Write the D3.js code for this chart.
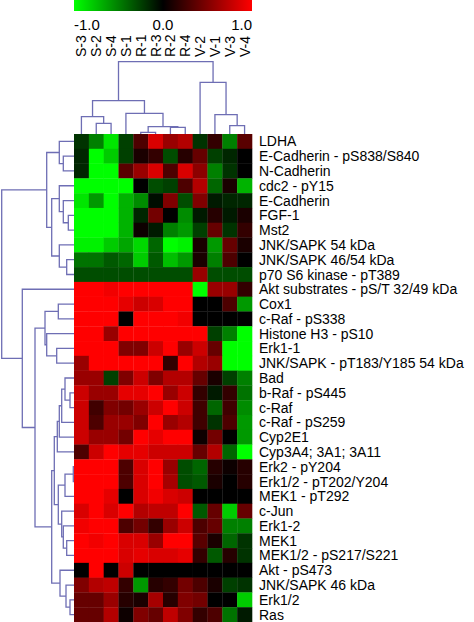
<!DOCTYPE html>
<html>
<head>
<meta charset="utf-8">
<script src="https://cdn.jsdelivr.net/npm/d3@7"></script>
<style>
  body { margin: 0; background: #fff; }
  text { font-family: "Liberation Sans", Arial, sans-serif; font-size: 14px; fill: #000; }
</style>
</head>
<body>
<svg id="drawing_region"></svg>
<script>
const samples = ["S-3","S-2","S-4","S-1","R-1","R-3","R-2","R-4","V-2","V-1","V-3","V-4"];

const proteins = [
  "LDHA","E-Cadherin - pS838/S840","N-Cadherin","cdc2 - pY15","E-Cadherin","FGF-1","Mst2",
  "JNK/SAPK 54 kDa","JNK/SAPK 46/54 kDa","p70 S6 kinase - pT389","Akt substrates - pS/T 32/49 kDa",
  "Cox1","c-Raf - pS338","Histone H3 - pS10","Erk1-1","JNK/SAPK - pT183/Y185 54 kDa","Bad",
  "b-Raf - pS445","c-Raf","c-Raf - pS259","Cyp2E1","Cyp3A4; 3A1; 3A11","Erk2 - pY204",
  "Erk1/2 - pT202/Y204","MEK1 - pT292","c-Jun","Erk1-2","MEK1","MEK1/2 - pS217/S221",
  "Akt - pS473","JNK/SAPK 46 kDa","Erk1/2","Ras"
];

// expression values (log ratio), one row per protein, columns in sample order
const values = [
  [-0.2,-0.5,-0.9,-0.25,0.3,0.85,0.6,0.7,-0.2,0.2,-0.5,0.35],
  [-0.15,-1,-0.8,-0.25,0.1,0.2,-0.3,0.15,0.4,-0.25,-0.15,0],
  [-0.15,-1,-1,0.35,0.6,0.85,0.3,0.85,0.55,-0.5,-0.2,0],
  [-1,-1,-1,-1,0,-0.3,-0.25,0.3,0.7,-0.4,0.1,-0.7],
  [-0.9,-0.6,-1,-0.7,-0.55,-0.05,0.5,-0.3,0.5,-0.1,-0.15,-0.15],
  [-1,-1,-1,-0.7,-0.15,0.45,0,-0.55,-0.1,0.15,-0.1,0.1],
  [-1,-1,-1,-0.7,0.05,-0.1,-0.5,-0.6,-0.25,0.4,-0.2,0.2],
  [-0.95,-0.95,-0.8,-0.65,-0.85,-0.4,-1,-0.95,0.1,-0.6,0.4,0.1],
  [-0.45,-0.45,-0.35,-0.4,-0.8,-0.35,-0.75,-0.6,0.1,-0.5,0.3,0],
  [-0.3,-0.3,-0.3,-0.3,-0.3,-0.3,-0.3,-0.3,0.6,-0.3,-0.3,-0.3],
  [1,1,0.95,1,1,1,1,1,-1,0.6,0.6,0.2],
  [1,1,1,0.9,0.8,0.85,1,1,0,0,0.3,-0.6],
  [1,1,1,0,1,1,1,0.95,0,0,0,0],
  [1,1,0.6,1,1,1,1,1,1,-0.25,-0.5,-1],
  [1,1,1,0.5,0.5,0.8,1,0.6,0.8,0.4,-1,-1],
  [0.6,1,1,1,1,1,0.2,1,0.7,0.6,-1,-1],
  [0.6,0.6,-0.25,0.5,0.8,0.5,0.7,0.7,0.4,0.1,-0.25,-0.5],
  [0.8,0.6,0.6,0.9,0.9,1,0.6,0.8,0.2,-0.1,0.2,-0.45],
  [0.8,0.25,0.5,0.45,0.6,0.8,1,0.8,0.25,-0.4,0.25,-0.55],
  [0.8,0.3,0.6,0.6,0.5,1,0.6,0.7,0.25,-0.2,0.3,-0.6],
  [0.8,0.6,0.6,0.45,1,0.9,1,1,0.05,0.45,0,-0.6],
  [0.3,0.8,1,0.9,0.9,0.8,0.8,0.8,0.4,0.7,-0.4,-1],
  [1,1,1,0.3,0.85,1,0.6,-0.3,-0.4,0.15,0.05,0.15],
  [1,1,1,0.3,0.85,1,0.65,-0.3,-0.35,0.1,0,0.15],
  [1,1,0.9,0,0.85,0.95,0.85,0.8,0,0,0,0],
  [0.85,1,0.85,1,0.7,0.75,0.75,1,-0.35,0.4,-0.8,0.4],
  [0.95,1,1,0.3,0.45,0.2,0.6,0.8,0.3,0.4,-0.5,-0.5],
  [1,0.95,1,0.85,0.85,0.6,1,1,0.35,0.1,-0.4,-0.2],
  [1,1,1,0.85,0.9,0.85,0.85,0.9,0.2,-0.35,0.15,-0.2],
  [0,1,0,0.8,0,0,0,0,0,0,0,0],
  [0.5,0.7,0.75,0.2,-0.6,0.15,0.2,0.45,0.3,0.1,-0.25,-0.2],
  [0.4,0.4,0.6,0.15,0.1,0.65,0.15,0.5,0.45,0,0,-0.8],
  [0.4,0.4,0.7,0.05,0.5,0.4,0.75,0.5,0.2,0.3,-0.45,-0.1]
];

const scaleTicks = [-1.0, 0.0, 1.0];

// dendrograms: [height, left, right], leaves are indices
const colTree = [72.3,
  [33.3, [17.3, 0, [10.7, 1, 2]], [20.7, 3, [7.3, [1.7, 4, 5], [6.7, 6, 7]]]],
  [51.7, 8, [19.3, 9, [8.3, 10, 11]]]
];

const rowTree = [72.3,
  [27.3, [14.7, 0, [10.7, 1, 2]],
         [22.3, [14.7, 3, [10.7, 4, [5.7, 5, 6]]], [14.7, 7, [7.3, 8, 9]]]],
  [51.7, 10,
    [39, [29, [15.7, 11, 12], [27.3, 13, [17.3, 14, 15]]],
         [22.3,
           [19.7,
             [16.7, [14.7, [12.3, [9, 16, [4, 17, 18]], 19], 20], 21],
             [15.7, [9, [0.7, 22, 23], 24], [12.3, 25, [10.7, 26, [7.3, 27, 28]]]]],
           [14, 29, [8, 30, [4, 31, 32]]]]]]
];

const W = 474, H = 622;
const hm = {left: 74, right: 252, top: 134, bottom: 622};

const svg = d3.select('#drawing_region').attr('width', W).attr('height', H);

const x = d3.scaleBand().domain(d3.range(samples.length)).range([hm.left, hm.right]);
const y = d3.scaleBand().domain(d3.range(proteins.length)).range([hm.top, hm.bottom]);
const color = d3.scaleLinear().domain([-1, 0, 1]).range(['#00ff00', '#000000', '#ff0000']).clamp(true);

// colour key
const grad = svg.append('defs').append('linearGradient').attr('id', 'key');
grad.selectAll('stop').data([-1, 0, 1]).join('stop')
  .attr('offset', d => `${(d + 1) * 50}%`)
  .attr('stop-color', d => color(d));

const keyScale = d3.scaleLinear().domain([-1, 1]).range([hm.left, hm.right]);
svg.append('rect')
  .attr('x', hm.left).attr('y', 0)
  .attr('width', hm.right - hm.left).attr('height', 11)
  .attr('fill', 'url(#key)');
svg.selectAll('.keylab').data(scaleTicks).join('text')
  .attr('x', d => keyScale(d))
  .attr('y', 30)
  .style('font-size', '15px')
  .attr('text-anchor', (d, i) => i == 0 ? 'start' : i == scaleTicks.length - 1 ? 'end' : 'middle')
  .text(d => d.toFixed(1));

// column labels
svg.selectAll('.collab').data(samples).join('text')
  .attr('transform', (d, i) => `translate(${x(i) + x.bandwidth() / 2 + 5}, 57) rotate(-90)`)
  .text(d => d);

// heatmap cells
const cells = [];
values.forEach((row, r) => row.forEach((v, c) => cells.push({r, c, v})));
svg.append('g').selectAll('rect').data(cells).join('rect')
  .attr('x', d => x(d.c))
  .attr('y', d => y(d.r))
  .attr('width', x.bandwidth() + 0.3)
  .attr('height', y.bandwidth() + 0.3)
  .attr('fill', d => color(d.v));

// row labels
svg.selectAll('.rowlab').data(proteins).join('text')
  .attr('x', 259)
  .attr('y', (d, i) => y(i) + y.bandwidth() / 2)
  .attr('dy', '0.36em')
  .text(d => d);

// dendrograms
const dendroColor = '#6e6eb4';
const colH = d3.scaleLinear().domain([0, 72.3]).range([hm.top, hm.top - 72.3]);
const rowH = d3.scaleLinear().domain([0, 72.3]).range([hm.left, hm.left - 72.3]);

function drawTree(g, node, posOf, hScale, vertical) {
  const segs = [];
  function walk(n) {
    if (typeof n === 'number') return {p: posOf(n), h: 0};
    const a = walk(n[1]), b = walk(n[2]);
    segs.push([[a.p, a.h], [a.p, n[0]], [b.p, n[0]], [b.p, b.h]]);
    return {p: (a.p + b.p) / 2, h: n[0]};
  }
  walk(node);
  const line = vertical
    ? d3.line().x(d => d[0]).y(d => hScale(d[1]))
    : d3.line().x(d => hScale(d[1])).y(d => d[0]);
  g.selectAll('path').data(segs).join('path')
    .attr('d', line)
    .attr('fill', 'none')
    .attr('stroke', dendroColor)
    .attr('stroke-width', 1.3);
}

drawTree(svg.append('g'), colTree, i => x(i) + x.bandwidth() / 2, colH, true);
drawTree(svg.append('g'), rowTree, i => y(i) + y.bandwidth() / 2, rowH, false);
</script>
</body>
</html>
